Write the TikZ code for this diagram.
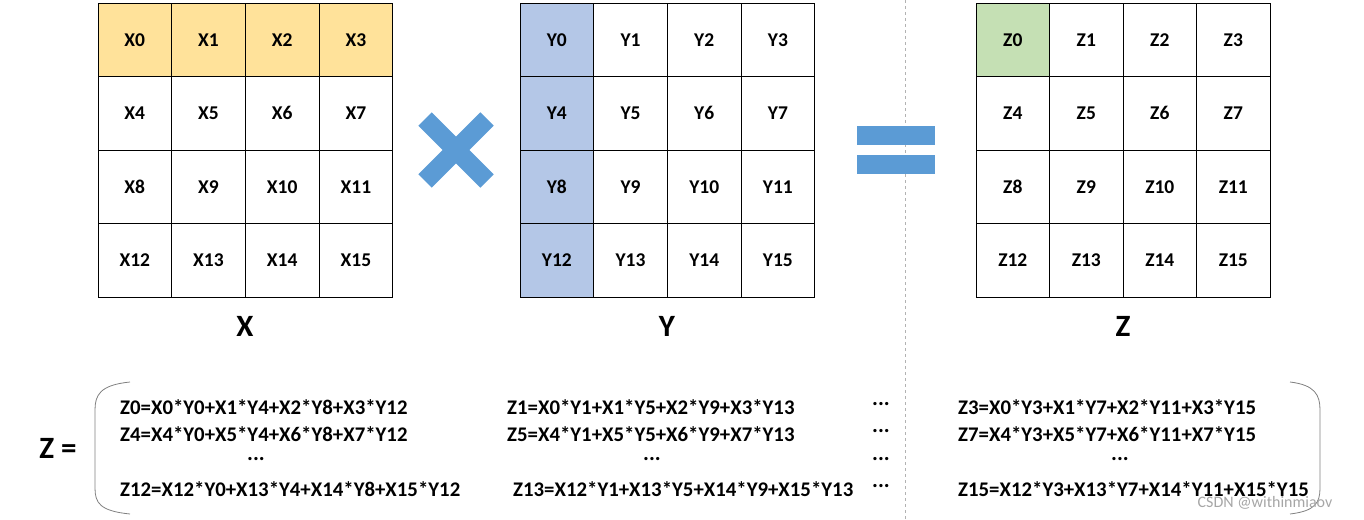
\documentclass[tikz,border=0pt]{standalone}
\usepackage{fontspec}
\setmainfont{Carlito}
\definecolor{rowx}{HTML}{FFE29A}
\definecolor{coly}{HTML}{B4C7E7}
\definecolor{cellz}{HTML}{C5E0B4}
\definecolor{opblue}{HTML}{5B9BD5}
\tikzset{
    cell/.style={draw, line width=0.8pt, minimum width=73.6pt, minimum height=73.5pt, inner sep=0pt, font=\fontsize{19.5}{20}\selectfont\bfseries},
    eqn/.style={anchor=west, inner sep=0pt, font=\fontsize{20.8}{21}\selectfont\bfseries},
    dots/.style={inner sep=0pt, font=\fontsize{22}{22}\selectfont\bfseries}
}
\begin{document}
\begin{tikzpicture}[x=1pt, y=-1pt]
    \useasboundingbox (0,0) rectangle (1364,519);
    % Divider
    \draw[dashed, gray!60, line width=0.6pt] (905,0) -- (905,519);

    % Matrices
    \foreach \r in {0,1,2,3} {
        \foreach \c in {0,1,2,3} {
            \pgfmathtruncatemacro{\k}{4*\r+\c}
            \node[cell] (x\k) at (134.8+73.7*\c, 39.8+73.5*\r) {X\k};
            \node[cell] (y\k) at (556.8+73.7*\c, 39.8+73.5*\r) {Y\k};
            \node[cell] (z\k) at (1012.8+73.5*\c, 39.8+73.5*\r) {Z\k};
        }
    }
    \foreach \c in {0,1,2,3} {
        \node[cell, fill=rowx] at (x\c) {X\c};
    }
    \foreach \r in {0,4,8,12} {
        \node[cell, fill=coly] at (y\r) {Y\r};
    }
    \node[cell, fill=cellz] at (z0) {Z0};

    % Names
    \node[font=\fontsize{31}{31}\selectfont\bfseries] (lx) at (245,326) {X};
    \node[font=\fontsize{31}{31}\selectfont\bfseries] (ly) at (667,326) {Y};
    \node[font=\fontsize{31}{31}\selectfont\bfseries] (lz) at (1123,326) {Z};

    % Operators
    \draw[opblue, line width=19pt] (425,119) -- (487,181);
    \draw[opblue, line width=19pt] (425,181) -- (487,119);
    \fill[opblue] (857,126) rectangle (935,145);
    \fill[opblue] (857,155) rectangle (935,174);

    % Equations
    \node[font=\fontsize{31}{31}\selectfont\bfseries] (zeq) at (58,448) {Z =};
    \draw[gray, line width=0.8pt] (130,382) .. controls (100,385) and (95,395) .. (95,410) -- (95,488) .. controls (95,503) and (100,511) .. (130,514);
    \draw[gray, line width=0.8pt] (1290,382) .. controls (1315,385) and (1320,395) .. (1320,410) -- (1320,488) .. controls (1320,503) and (1315,511) .. (1290,514);

    \node[eqn] (e0) at (120,407) {Z0=X0*Y0+X1*Y4+X2*Y8+X3*Y12};
    \node[eqn] (e4) at (120,434) {Z4=X4*Y0+X5*Y4+X6*Y8+X7*Y12};
    \node[dots] (d1) at (256,459) {...};
    \node[eqn] (e12) at (120,489) {Z12=X12*Y0+X13*Y4+X14*Y8+X15*Y12};

    \node[eqn] (e1) at (507,407) {Z1=X0*Y1+X1*Y5+X2*Y9+X3*Y13};
    \node[eqn] (e5) at (507,434) {Z5=X4*Y1+X5*Y5+X6*Y9+X7*Y13};
    \node[dots] (d2) at (652,459) {...};
    \node[eqn] (e13) at (513,489) {Z13=X12*Y1+X13*Y5+X14*Y9+X15*Y13};

    \foreach \yy in {404,431,459,486} {
        \node[dots] at (881,\yy) {...};
    }

    \node[eqn] (e3) at (958,407) {Z3=X0*Y3+X1*Y7+X2*Y11+X3*Y15};
    \node[eqn] (e7) at (958,434) {Z7=X4*Y3+X5*Y7+X6*Y11+X7*Y15};
    \node[dots] (d3) at (1120,459) {...};
    \node[eqn] (e15) at (958,489) {Z15=X12*Y3+X13*Y7+X14*Y11+X15*Y15};

    % Watermark
    \node[gray!70, font=\fontsize{16}{16}\selectfont] (wm) at (1265,503) {CSDN @withinmiaov};
\end{tikzpicture}
\end{document}
